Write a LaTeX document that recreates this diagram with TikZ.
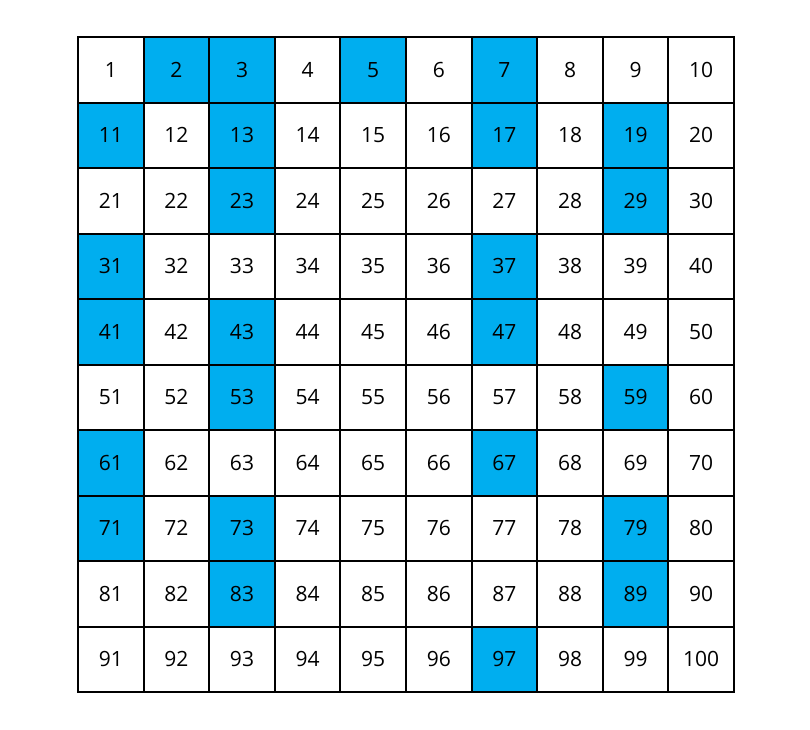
\documentclass[tikz,border=0pt]{standalone}
\usepackage{fontspec}
\setmainfont{Open Sans}
\definecolor{pblue}{HTML}{00AEEF}
\begin{document}
\begin{tikzpicture}[x=1pt,y=-1pt,
  cellbox/.style={draw=black,line width=2pt,minimum width=65.6pt,minimum height=65.5pt,inner sep=0pt,font=\fontsize{21}{21}\selectfont,anchor=north west}]
\useasboundingbox (0,0) rectangle (810,729);
\foreach \r in {0,...,9}{
  \foreach \c in {1,...,10}{
    \pgfmathtruncatemacro{\n}{\r*10+\c}
    \def\fillc{white}
    \foreach \p in {2,3,5,7,11,13,17,19,23,29,31,37,41,43,47,53,59,61,67,71,73,79,83,89,97}{
      \ifnum\p=\n\global\def\fillc{pblue}\fi}
    \node[cellbox,fill=\fillc] (c\n) at ({77+(\c-1)*65.6},{36+\r*65.5}) {\n};
    \gdef\fillc{white}
  }
}
\end{tikzpicture}
\end{document}
